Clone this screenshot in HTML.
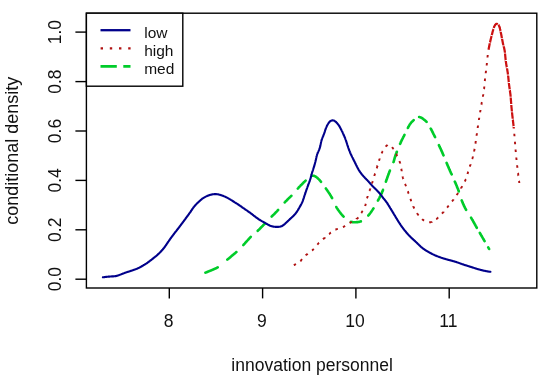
<!DOCTYPE html>
<html><head><meta charset="utf-8"><style>
html,body{margin:0;padding:0;background:#fff;overflow:hidden;width:550px;height:380px;}
svg{display:block;}
.lab{font-family:"Liberation Sans",Arial,sans-serif;font-size:17.5px;fill:#111;}
.leg{font-family:"Liberation Sans",Arial,sans-serif;font-size:15.5px;fill:#111;}
</style></head><body>
<svg width="550" height="380" viewBox="0 0 550 380">
<rect x="0" y="0" width="550" height="380" fill="#fff"/>
<path d="M205.4 272.7L205.6 272.6L205.8 272.5L206.1 272.4L206.3 272.3L206.5 272.3L206.7 272.2L207.0 272.1L207.2 272.0L207.4 271.9L207.7 271.8L207.9 271.7L208.1 271.6L208.4 271.5L208.6 271.4L208.8 271.3L209.1 271.2L209.3 271.1L209.5 271.0L209.8 270.9L210.0 270.8L210.2 270.7L210.5 270.7L210.7 270.6L210.9 270.5L211.1 270.4L211.4 270.3L211.6 270.2L211.8 270.1L212.1 270.0L212.3 269.9L212.5 269.8L212.8 269.7L213.0 269.6L213.2 269.5L213.4 269.4L213.7 269.3L213.9 269.2L214.1 269.1L214.4 269.0L214.6 268.9L214.8 268.8L215.0 268.7L215.3 268.6L215.5 268.5L215.7 268.4L216.0 268.3L216.2 268.2L216.4 268.1L216.6 267.9L216.9 267.8L217.1 267.7L217.3 267.6L217.5 267.5L217.7 267.4 M227.3 259.7L227.4 259.6L227.6 259.4L227.8 259.2L228.0 259.1L228.2 258.9L228.4 258.8L228.6 258.6L228.8 258.4L228.9 258.3L229.1 258.1L229.3 258.0L229.5 257.8L229.7 257.6L229.9 257.5L230.1 257.3L230.3 257.1L230.5 257.0L230.7 256.8L230.9 256.7L231.1 256.5L231.2 256.3L231.4 256.2L231.6 256.0L231.8 255.9L232.0 255.7L232.2 255.5L232.4 255.4L232.6 255.2L232.8 255.1L233.0 254.9L233.2 254.7L233.4 254.6L233.5 254.4L233.7 254.3L233.9 254.1L234.1 253.9L234.3 253.8L234.5 253.6L234.7 253.4L234.9 253.3L235.1 253.1L235.3 253.0L235.4 252.8L235.6 252.6L235.8 252.5L236.0 252.3L236.2 252.1L236.4 252.0 M243.3 245.1L243.5 244.9L243.6 244.7L243.8 244.5L244.0 244.4L244.1 244.2L244.3 244.0L244.5 243.8L244.6 243.6L244.8 243.4L245.0 243.2L245.1 243.0L245.3 242.9L245.5 242.7L245.6 242.5L245.8 242.3L246.0 242.1L246.1 241.9L246.3 241.7L246.5 241.6L246.6 241.4L246.8 241.2L247.0 241.0L247.1 240.8L247.3 240.6L247.5 240.4L247.6 240.3L247.8 240.1L248.0 239.9L248.1 239.7L248.3 239.5L248.5 239.3L248.6 239.1L248.8 239.0L249.0 238.8L249.1 238.6L249.3 238.4L249.5 238.2L249.7 238.0L249.8 237.9L250.0 237.7L250.2 237.5L250.3 237.3L250.5 237.1L250.7 237.0L250.8 236.8 M257.7 230.9L257.8 230.7L258.0 230.5L258.2 230.4L258.4 230.2L258.5 230.0L258.7 229.8L258.9 229.7L259.1 229.5L259.3 229.3L259.4 229.1L259.6 229.0L259.8 228.8L260.0 228.6L260.1 228.4L260.3 228.3L260.5 228.1L260.7 227.9L260.8 227.7L261.0 227.5L261.2 227.4L261.4 227.2L261.5 227.0L261.7 226.8L261.9 226.7L262.1 226.5L262.2 226.3L262.4 226.1L262.6 225.9L262.8 225.8L262.9 225.6L263.1 225.4L263.3 225.2L263.5 225.0L263.6 224.9L263.8 224.7L264.0 224.5L264.2 224.3L264.3 224.1L264.5 224.0L264.7 223.8L264.8 223.6 M271.7 216.5L271.8 216.4L272.0 216.2L272.2 216.1L272.3 215.9L272.5 215.7L272.7 215.5L272.9 215.4L273.1 215.2L273.2 215.0L273.4 214.8L273.6 214.7L273.8 214.5L273.9 214.3L274.1 214.1L274.3 214.0L274.5 213.8L274.7 213.6L274.8 213.4L275.0 213.2L275.2 213.1L275.4 212.9L275.5 212.7L275.7 212.5L275.9 212.4L276.1 212.2L276.2 212.0L276.4 211.8L276.6 211.6L276.8 211.5L276.9 211.3L277.1 211.1L277.3 210.9L277.4 210.7L277.6 210.5L277.8 210.4L277.9 210.2L278.1 210.0 M284.7 202.4L284.9 202.3L285.0 202.1L285.2 201.9L285.4 201.7L285.5 201.5L285.7 201.4L285.9 201.2L286.1 201.0L286.2 200.8L286.4 200.6L286.6 200.5L286.8 200.3L286.9 200.1L287.1 199.9L287.3 199.8L287.5 199.6L287.7 199.4L287.8 199.2L288.0 199.1L288.2 198.9L288.4 198.7L288.6 198.5L288.7 198.4L288.9 198.2L289.1 198.0L289.3 197.8L289.4 197.7L289.6 197.5L289.8 197.3L290.0 197.1L290.2 197.0L290.3 196.8L290.5 196.6L290.7 196.4L290.9 196.3L291.0 196.1L291.2 195.9L291.4 195.8 M297.8 188.6L297.9 188.5L298.1 188.3L298.2 188.1L298.4 187.9L298.6 187.7L298.7 187.5L298.9 187.4L299.1 187.2L299.2 187.0L299.4 186.8L299.6 186.6L299.8 186.4L299.9 186.3L300.1 186.1L300.3 185.9L300.5 185.7L300.6 185.5L300.8 185.4L301.0 185.2L301.1 185.0L301.3 184.8L301.5 184.6L301.7 184.5L301.9 184.3L302.0 184.1L302.2 183.9L302.4 183.8L302.6 183.6L302.7 183.4L302.9 183.2L303.1 183.1L303.3 182.9L303.4 182.7L303.6 182.5L303.8 182.4L304.0 182.2L304.2 182.0L304.3 181.8L304.5 181.7L304.7 181.5L304.9 181.3L305.1 181.1L305.2 181.0L305.4 180.8L305.6 180.7 M312.4 175.7L312.5 175.7L312.8 175.7L313.0 175.7L313.2 175.7L313.5 175.8L313.7 175.8L313.9 175.8L314.2 175.9L314.4 176.0L314.6 176.1L314.8 176.2L315.1 176.3L315.3 176.4L315.5 176.5L315.7 176.6L315.9 176.8L316.1 176.9L316.3 177.0L316.5 177.2L316.7 177.3L316.9 177.5L317.1 177.7L317.3 177.8L317.5 178.0L317.7 178.1L317.8 178.3L318.0 178.5L318.2 178.7L318.4 178.8L318.6 179.0L318.7 179.2L318.9 179.4L319.1 179.6L319.2 179.7L319.4 179.9L319.6 180.1L319.8 180.3L319.9 180.5L320.1 180.7L320.2 180.9L320.4 181.0L320.6 181.2L320.7 181.4L320.9 181.6L321.0 181.8 M325.9 188.5L326.1 188.7L326.2 188.9L326.4 189.1L326.5 189.3L326.6 189.5L326.8 189.7L326.9 189.9L327.1 190.1L327.2 190.3L327.4 190.5L327.5 190.7L327.6 190.9L327.8 191.1L327.9 191.3L328.1 191.5L328.2 191.7L328.4 192.0L328.5 192.2L328.6 192.4L328.8 192.6L328.9 192.8L329.0 193.0L329.2 193.2L329.3 193.4L329.5 193.6L329.6 193.8L329.7 194.0L329.9 194.3L330.0 194.5L330.1 194.7L330.3 194.9L330.4 195.1L330.5 195.3L330.6 195.5L330.8 195.7L330.9 196.0L331.0 196.2L331.1 196.4L331.3 196.6L331.4 196.8L331.5 197.1L331.6 197.3L331.7 197.5L331.9 197.7L332.0 197.9L332.1 198.1 M336.3 207.0L336.4 207.2L336.5 207.4L336.6 207.6L336.8 207.8L336.9 208.0L337.0 208.2L337.2 208.4L337.3 208.7L337.5 208.9L337.6 209.1L337.7 209.3L337.9 209.5L338.0 209.7L338.2 209.9L338.3 210.1L338.5 210.3L338.6 210.5L338.8 210.7L338.9 210.9L339.1 211.1L339.2 211.3L339.4 211.5L339.5 211.7L339.7 211.9L339.8 212.1L340.0 212.3L340.1 212.5L340.3 212.7L340.4 212.9L340.6 213.1L340.7 213.3L340.9 213.5L341.0 213.7L341.2 213.9L341.3 214.1L341.5 214.3L341.7 214.5L341.8 214.7L342.0 214.8L342.1 215.0L342.3 215.2L342.5 215.4L342.6 215.6L342.8 215.8L343.0 216.0L343.1 216.2L343.3 216.3L343.5 216.5L343.6 216.7 M350.9 221.8L351.1 221.9L351.3 221.9L351.6 222.0L351.8 222.0L352.1 222.1L352.3 222.1L352.5 222.1L352.8 222.2L353.0 222.2L353.3 222.2L353.5 222.2L353.8 222.2L354.0 222.2L354.3 222.2L354.5 222.2L354.8 222.2L355.0 222.2L355.3 222.2L355.5 222.2L355.8 222.2L356.0 222.2L356.3 222.2L356.5 222.2L356.8 222.1L357.0 222.1L357.3 222.1L357.5 222.1L357.8 222.1L358.0 222.0L358.3 222.0L358.5 222.0L358.8 221.9L359.0 221.9L359.3 221.8L359.5 221.8L359.7 221.7L360.0 221.7L360.2 221.6L360.5 221.5L360.7 221.4L360.9 221.4 M368.3 215.5L368.4 215.4L368.6 215.2L368.8 215.0L368.9 214.8L369.1 214.6L369.2 214.4L369.4 214.2L369.6 214.0L369.7 213.8L369.9 213.6L370.0 213.4L370.2 213.2L370.3 213.0L370.4 212.8L370.6 212.6L370.7 212.4L370.9 212.2L371.0 212.0L371.2 211.8L371.3 211.6L371.4 211.4L371.6 211.2L371.7 211.0L371.9 210.7L372.0 210.5L372.1 210.3L372.3 210.1L372.4 209.9L372.6 209.7L372.7 209.5L372.8 209.3L373.0 209.1L373.1 208.9L373.2 208.7L373.4 208.4L373.5 208.3 M377.9 200.6L378.0 200.5L378.1 200.2L378.3 200.0L378.4 199.8L378.5 199.6L378.6 199.4L378.7 199.1L378.9 198.9L379.0 198.7L379.1 198.5L379.2 198.3L379.3 198.0L379.4 197.8L379.6 197.6L379.7 197.4L379.8 197.2L379.9 196.9L380.0 196.7L380.1 196.5L380.3 196.3L380.4 196.0L380.5 195.8L380.6 195.6L380.7 195.4L380.8 195.1L380.9 194.9L381.0 194.7L381.1 194.5L381.2 194.2L381.3 194.0L381.4 193.8L381.5 193.6L381.7 193.3L381.8 193.1L381.9 192.9L381.9 192.6L382.0 192.4L382.1 192.2L382.2 191.9L382.3 191.7L382.4 191.5L382.5 191.3L382.6 191.0L382.7 190.8L382.8 190.6L382.9 190.3L383.0 190.1L383.0 189.9 M385.9 181.8L385.9 181.6L386.0 181.4L386.1 181.1L386.2 180.9L386.3 180.6L386.3 180.4L386.4 180.2L386.5 179.9L386.6 179.7L386.7 179.5L386.8 179.2L386.8 179.0L386.9 178.8L387.0 178.5L387.1 178.3L387.2 178.0L387.2 177.8L387.3 177.6L387.4 177.3L387.5 177.1L387.6 176.9L387.7 176.6L387.8 176.4L387.8 176.2L387.9 175.9L388.0 175.7L388.1 175.5L388.2 175.2L388.3 175.0L388.3 174.8L388.4 174.5L388.5 174.3L388.6 174.0L388.7 173.8L388.8 173.6L388.9 173.3L389.0 173.1L389.0 172.9L389.1 172.6L389.2 172.4L389.3 172.2L389.4 171.9L389.5 171.7L389.6 171.5L389.7 171.2L389.8 171.0L389.9 170.8L389.9 170.6 M393.5 162.2L393.6 162.1L393.6 161.8L393.7 161.6L393.8 161.3L393.8 161.1L393.9 160.9L394.0 160.6L394.0 160.4L394.1 160.1L394.2 159.9L394.2 159.6L394.3 159.4L394.4 159.2L394.4 158.9L394.5 158.7L394.6 158.4L394.6 158.2L394.7 158.0L394.8 157.7L394.8 157.5L394.9 157.2L395.0 157.0L395.1 156.8L395.1 156.5L395.2 156.3L395.3 156.1L395.4 155.8L395.5 155.6L395.5 155.3L395.6 155.1L395.7 154.9L395.8 154.6L395.9 154.4L396.0 154.2L396.1 153.9L396.2 153.7L396.2 153.5L396.3 153.2L396.4 153.0L396.5 152.8L396.6 152.5L396.7 152.3L396.8 152.1L396.9 151.8L396.9 151.7 M400.1 143.9L400.2 143.7L400.3 143.5L400.4 143.3L400.5 143.0L400.6 142.8L400.7 142.6L400.8 142.4L400.9 142.1L401.0 141.9L401.1 141.7L401.2 141.4L401.3 141.2L401.4 141.0L401.5 140.8L401.6 140.5L401.7 140.3L401.8 140.1L401.9 139.9L402.0 139.6L402.2 139.4L402.3 139.2L402.4 139.0L402.5 138.7L402.6 138.5L402.7 138.3L402.8 138.1L402.9 137.9L403.1 137.6L403.2 137.4L403.3 137.2L403.4 137.0L403.5 136.7L403.6 136.5L403.7 136.3L403.9 136.1L404.0 135.9L404.1 135.6L404.2 135.4L404.3 135.2L404.4 135.0L404.5 134.8 M407.9 128.0L408.0 127.8L408.1 127.6L408.2 127.3L408.3 127.1L408.4 126.9L408.5 126.7L408.6 126.4L408.8 126.2L408.9 126.0L409.0 125.8L409.1 125.6L409.2 125.4L409.4 125.1L409.5 124.9L409.6 124.7L409.8 124.5L409.9 124.3L410.0 124.1L410.2 123.9L410.3 123.7L410.5 123.5L410.6 123.3L410.8 123.1L410.9 122.9L411.1 122.7L411.2 122.5L411.4 122.3L411.6 122.1L411.7 122.0L411.9 121.8L412.1 121.6L412.3 121.4L412.5 121.3L412.6 121.1L412.8 120.9L413.0 120.8L413.2 120.6L413.4 120.4L413.6 120.2L413.7 120.1 M419.1 117.0L419.2 117.0L419.4 117.0L419.6 117.1L419.9 117.1L420.1 117.2L420.3 117.3L420.5 117.4L420.8 117.5L421.0 117.6L421.2 117.7L421.4 117.8L421.7 117.9L421.9 118.0L422.1 118.2L422.3 118.3L422.5 118.4L422.7 118.6L422.9 118.7L423.1 118.9L423.3 119.0L423.5 119.2L423.7 119.3L423.9 119.5L424.1 119.6L424.3 119.8L424.5 119.9L424.7 120.1L424.9 120.3L425.1 120.4L425.2 120.6L425.4 120.7L425.6 120.9L425.8 121.1L426.0 121.3L426.2 121.4L426.3 121.6L426.5 121.8L426.6 121.9 M430.7 128.6L430.8 128.7L431.0 129.0L431.1 129.2L431.2 129.4L431.3 129.6L431.4 129.9L431.5 130.1L431.6 130.3L431.7 130.5L431.9 130.7L432.0 131.0L432.1 131.2L432.2 131.4L432.3 131.6L432.4 131.9L432.5 132.1L432.6 132.3L432.8 132.5L432.9 132.8L433.0 133.0L433.1 133.2L433.2 133.4L433.3 133.6L433.4 133.9L433.5 134.1L433.7 134.3L433.8 134.5L433.9 134.8L434.0 135.0L434.1 135.2L434.2 135.4L434.3 135.7L434.4 135.9L434.5 136.1L434.6 136.3L434.8 136.6L434.9 136.8L435.0 137.0L435.1 137.2 M438.9 145.2L439.0 145.4L439.1 145.6L439.2 145.8L439.3 146.0L439.4 146.3L439.5 146.5L439.6 146.7L439.7 146.9L439.8 147.2L439.9 147.4L440.0 147.6L440.2 147.8L440.3 148.1L440.4 148.3L440.5 148.5L440.6 148.7L440.7 149.0L440.8 149.2L440.9 149.4L441.0 149.7L441.1 149.9L441.2 150.1L441.3 150.3L441.4 150.6L441.5 150.8L441.6 151.0L441.7 151.3L441.8 151.5L441.9 151.7L442.0 151.9L442.1 152.2L442.2 152.4L442.3 152.6L442.4 152.8L442.5 153.1L442.6 153.3L442.7 153.5L442.8 153.8L442.9 154.0L443.0 154.2L443.1 154.5L443.2 154.7L443.3 154.9L443.4 155.1L443.5 155.3 M446.6 162.8L446.7 163.0L446.7 163.2L446.8 163.5L446.9 163.7L447.0 163.9L447.1 164.2L447.2 164.4L447.3 164.6L447.4 164.9L447.5 165.1L447.6 165.3L447.7 165.5L447.8 165.8L447.9 166.0L448.0 166.2L448.1 166.5L448.2 166.7L448.3 166.9L448.4 167.2L448.5 167.4L448.6 167.6L448.7 167.8L448.8 168.1L448.9 168.3L449.0 168.5L449.1 168.8L449.2 169.0L449.3 169.2L449.4 169.4L449.5 169.7L449.6 169.9L449.7 170.1L449.8 170.4L449.9 170.6L450.0 170.8L450.1 171.0L450.2 171.3L450.3 171.5L450.4 171.7L450.5 172.0L450.6 172.2L450.7 172.4L450.8 172.6L450.9 172.9L451.0 173.1L451.2 173.3L451.3 173.5L451.4 173.8L451.5 174.0L451.6 174.2L451.7 174.4 M454.8 181.6L454.9 181.8L455.0 182.0L455.1 182.2L455.2 182.5L455.3 182.7L455.4 182.9L455.5 183.1L455.6 183.4L455.7 183.6L455.8 183.8L455.9 184.1L456.0 184.3L456.1 184.5L456.2 184.8L456.3 185.0L456.4 185.2L456.5 185.5L456.6 185.7L456.7 185.9L456.8 186.1L456.9 186.4L456.9 186.6L457.0 186.8L457.1 187.1L457.2 187.3L457.3 187.5L457.4 187.8L457.5 188.0L457.6 188.2L457.7 188.5L457.8 188.7L457.9 188.9L458.0 189.2L458.1 189.4L458.2 189.6L458.2 189.9L458.3 190.1L458.4 190.3L458.5 190.6L458.6 190.8L458.7 191.0L458.8 191.3L458.8 191.5 M461.7 200.3L461.8 200.5L461.9 200.8L462.0 201.0L462.0 201.2L462.1 201.5L462.2 201.7L462.3 201.9L462.4 202.2L462.5 202.4L462.6 202.6L462.7 202.9L462.8 203.1L462.9 203.3L463.0 203.6L463.1 203.8L463.2 204.0L463.3 204.2L463.4 204.5L463.5 204.7L463.6 204.9L463.7 205.2L463.8 205.4L463.9 205.6L464.0 205.8L464.1 206.1L464.2 206.3L464.3 206.5L464.5 206.7L464.6 207.0L464.7 207.2L464.8 207.4L464.9 207.6L465.0 207.8L465.1 208.1L465.3 208.3L465.4 208.5L465.5 208.7L465.6 208.9L465.7 209.2L465.8 209.4L466.0 209.6L466.1 209.8 M471.1 217.7L471.2 217.8L471.3 218.0L471.4 218.3L471.6 218.5L471.7 218.7L471.8 218.9L471.9 219.1L472.1 219.3L472.2 219.6L472.3 219.8L472.4 220.0L472.6 220.2L472.7 220.4L472.8 220.6L472.9 220.9L473.1 221.1L473.2 221.3L473.3 221.5L473.4 221.7L473.5 222.0L473.7 222.2L473.8 222.4L473.9 222.6L474.0 222.8L474.1 223.0L474.3 223.3L474.4 223.5L474.5 223.7L474.6 223.9L474.8 224.1L474.9 224.4L475.0 224.6L475.1 224.8L475.2 225.0L475.4 225.2L475.5 225.5L475.6 225.7L475.7 225.9L475.9 226.1L476.0 226.3L476.1 226.5L476.2 226.8L476.3 227.0L476.5 227.2L476.6 227.4L476.7 227.6L476.8 227.8 M479.8 232.8L479.9 233.0L480.0 233.2L480.1 233.5L480.3 233.7L480.4 233.9L480.5 234.1L480.6 234.3L480.8 234.5L480.9 234.7L481.0 235.0L481.1 235.2L481.3 235.4L481.4 235.6L481.5 235.8L481.7 236.0L481.8 236.3L481.9 236.5L482.0 236.7L482.2 236.9L482.3 237.1L482.4 237.3L482.5 237.6L482.7 237.8L482.8 238.0L482.9 238.2L483.0 238.4L483.2 238.6L483.3 238.9L483.4 239.1L483.5 239.3L483.6 239.5L483.8 239.7L483.9 239.9L484.0 240.2L484.1 240.4L484.3 240.6L484.4 240.8L484.5 241.0L484.6 241.2 M488.2 247.3L488.3 247.5L488.4 247.7L488.5 247.9L488.7 248.2L488.8 248.4L488.9 248.6L489.0 248.8L489.1 249.0" fill="none" stroke="#00cc2a" stroke-width="2.6" stroke-linecap="round" stroke-linejoin="round"/>
<path d="M102.9 277.3L103.4 277.2L103.9 277.2L104.4 277.1L104.9 277.0L105.4 277.0L105.9 276.9L106.4 276.9L106.9 276.8L107.4 276.7L107.9 276.7L108.4 276.6L108.9 276.6L109.4 276.6L109.9 276.5L110.4 276.5L110.8 276.5L111.3 276.5L111.8 276.4L112.3 276.4L112.8 276.4L113.3 276.4L113.8 276.3L114.3 276.3L114.8 276.2L115.3 276.1L115.8 276.1L116.3 276.0L116.8 275.8L117.2 275.7L117.7 275.6L118.2 275.4L118.7 275.3L119.1 275.1L119.6 274.9L120.1 274.7L120.5 274.6L121.0 274.4L121.4 274.2L121.9 274.0L122.4 273.8L122.8 273.6L123.3 273.5L123.8 273.3L124.2 273.1L124.7 272.9L125.2 272.8L125.7 272.6L126.1 272.4L126.6 272.3L127.1 272.1L127.5 272.0L128.0 271.8L128.5 271.7L129.0 271.5L129.4 271.4L129.9 271.2L130.4 271.0L130.9 270.9L131.3 270.7L131.8 270.6L132.3 270.4L132.8 270.3L133.2 270.1L133.7 269.9L134.2 269.8L134.7 269.6L135.1 269.4L135.6 269.3L136.1 269.1L136.5 268.9L137.0 268.7L137.4 268.5L137.9 268.3L138.4 268.1L138.8 267.9L139.3 267.7L139.7 267.4L140.1 267.2L140.6 267.0L141.0 266.7L141.4 266.5L141.9 266.2L142.3 266.0L142.7 265.7L143.2 265.5L143.6 265.2L144.0 264.9L144.5 264.7L144.9 264.4L145.3 264.2L145.7 263.9L146.2 263.6L146.6 263.4L147.0 263.1L147.4 262.8L147.8 262.5L148.2 262.2L148.6 261.9L149.0 261.6L149.4 261.3L149.8 261.0L150.2 260.7L150.6 260.4L151.0 260.1L151.4 259.8L151.8 259.5L152.2 259.2L152.6 258.9L153.0 258.6L153.3 258.2L153.7 257.9L154.1 257.6L154.5 257.3L154.9 257.0L155.3 256.7L155.7 256.4L156.1 256.1L156.5 255.7L156.8 255.4L157.2 255.1L157.6 254.7L158.0 254.4L158.3 254.1L158.7 253.7L159.0 253.4L159.4 253.0L159.8 252.7L160.1 252.3L160.5 252.0L160.8 251.6L161.1 251.2L161.5 250.9L161.8 250.5L162.2 250.1L162.5 249.8L162.8 249.4L163.1 249.0L163.5 248.6L163.8 248.2L164.1 247.8L164.4 247.4L164.7 247.0L165.0 246.6L165.2 246.2L165.5 245.8L165.8 245.4L166.1 245.0L166.4 244.6L166.7 244.2L166.9 243.7L167.2 243.3L167.5 242.9L167.8 242.5L168.0 242.1L168.3 241.7L168.6 241.3L168.9 240.8L169.2 240.4L169.5 240.0L169.8 239.6L170.0 239.2L170.3 238.8L170.6 238.4L170.9 238.0L171.2 237.6L171.5 237.2L171.8 236.8L172.1 236.4L172.4 236.0L172.7 235.6L173.0 235.2L173.3 234.8L173.6 234.4L173.9 234.0L174.2 233.6L174.5 233.2L174.8 232.8L175.1 232.4L175.4 232.0L175.7 231.6L176.1 231.2L176.4 230.8L176.7 230.4L177.0 230.0L177.3 229.6L177.6 229.3L177.9 228.9L178.2 228.5L178.5 228.1L178.8 227.7L179.1 227.3L179.4 226.9L179.7 226.5L180.0 226.1L180.3 225.7L180.6 225.3L180.9 224.9L181.2 224.5L181.5 224.1L181.8 223.7L182.1 223.3L182.4 222.9L182.7 222.5L183.0 222.1L183.3 221.7L183.6 221.3L183.9 220.9L184.2 220.5L184.5 220.1L184.8 219.7L185.1 219.3L185.4 218.9L185.7 218.4L186.0 218.0L186.3 217.6L186.6 217.2L186.9 216.8L187.2 216.4L187.5 216.0L187.8 215.6L188.1 215.2L188.4 214.8L188.7 214.4L189.0 214.0L189.2 213.6L189.5 213.2L189.8 212.8L190.1 212.4L190.4 212.0L190.7 211.6L191.0 211.1L191.2 210.7L191.5 210.3L191.8 209.9L192.1 209.5L192.3 209.1L192.6 208.7L192.9 208.3L193.2 207.8L193.5 207.4L193.8 207.0L194.1 206.7L194.4 206.3L194.7 205.9L195.1 205.5L195.4 205.1L195.7 204.8L196.1 204.4L196.4 204.0L196.8 203.7L197.1 203.3L197.5 203.0L197.8 202.6L198.2 202.3L198.6 201.9L198.9 201.6L199.3 201.3L199.7 200.9L200.0 200.6L200.4 200.3L200.8 199.9L201.2 199.6L201.6 199.3L201.9 199.0L202.3 198.7L202.7 198.4L203.2 198.1L203.6 197.9L204.0 197.6L204.4 197.4L204.9 197.1L205.3 196.9L205.7 196.6L206.2 196.4L206.6 196.2L207.1 196.0L207.5 195.8L208.0 195.6L208.5 195.5L208.9 195.3L209.4 195.1L209.9 195.0L210.4 194.8L210.8 194.7L211.3 194.6L211.8 194.5L212.3 194.4L212.8 194.3L213.3 194.2L213.8 194.2L214.3 194.1L214.8 194.1L215.2 194.1L215.7 194.1L216.2 194.1L216.7 194.2L217.2 194.2L217.7 194.3L218.2 194.4L218.7 194.5L219.1 194.6L219.6 194.7L220.1 194.9L220.6 195.0L221.1 195.2L221.5 195.3L222.0 195.5L222.5 195.7L222.9 195.8L223.4 196.0L223.9 196.2L224.3 196.4L224.8 196.6L225.3 196.8L225.7 197.0L226.2 197.2L226.6 197.4L227.1 197.7L227.5 197.9L227.9 198.1L228.4 198.4L228.8 198.6L229.2 198.9L229.7 199.1L230.1 199.4L230.5 199.6L230.9 199.9L231.4 200.2L231.8 200.4L232.2 200.7L232.6 201.0L233.0 201.2L233.5 201.5L233.9 201.8L234.3 202.0L234.7 202.3L235.2 202.6L235.6 202.8L236.0 203.1L236.4 203.4L236.9 203.6L237.3 203.9L237.7 204.2L238.1 204.5L238.5 204.7L238.9 205.0L239.4 205.3L239.8 205.6L240.2 205.9L240.6 206.1L241.0 206.4L241.4 206.7L241.8 207.0L242.2 207.3L242.6 207.6L243.0 207.9L243.5 208.2L243.9 208.4L244.3 208.7L244.7 209.0L245.1 209.3L245.5 209.6L245.9 209.9L246.3 210.1L246.7 210.4L247.2 210.7L247.6 211.0L248.0 211.3L248.4 211.6L248.8 211.9L249.2 212.2L249.6 212.4L250.0 212.7L250.4 213.0L250.8 213.3L251.2 213.6L251.6 213.9L252.0 214.2L252.4 214.5L252.8 214.9L253.2 215.2L253.6 215.5L254.0 215.8L254.4 216.1L254.8 216.4L255.2 216.7L255.6 217.0L256.0 217.3L256.4 217.6L256.8 217.9L257.2 218.2L257.6 218.5L258.0 218.7L258.4 219.0L258.8 219.3L259.2 219.6L259.7 219.8L260.1 220.1L260.5 220.4L261.0 220.6L261.4 220.9L261.8 221.1L262.3 221.4L262.7 221.6L263.1 221.8L263.6 222.1L264.0 222.3L264.4 222.6L264.9 222.8L265.3 223.1L265.7 223.3L266.2 223.6L266.6 223.8L267.0 224.1L267.5 224.3L267.9 224.6L268.3 224.8L268.8 225.0L269.2 225.3L269.7 225.5L270.1 225.7L270.6 225.9L271.0 226.0L271.5 226.2L272.0 226.3L272.4 226.4L272.9 226.5L273.4 226.6L273.9 226.7L274.4 226.8L274.9 226.8L275.4 226.9L275.9 226.9L276.4 226.9L276.9 226.9L277.4 226.9L277.9 226.9L278.3 226.9L278.8 226.8L279.3 226.8L279.8 226.7L280.3 226.6L280.7 226.5L281.2 226.3L281.6 226.2L282.0 226.0L282.5 225.7L282.9 225.5L283.3 225.2L283.6 224.9L284.0 224.6L284.4 224.3L284.8 224.0L285.1 223.7L285.5 223.3L285.8 223.0L286.2 222.6L286.6 222.3L286.9 222.0L287.3 221.6L287.7 221.3L288.0 220.9L288.4 220.6L288.8 220.2L289.1 219.9L289.5 219.6L289.8 219.2L290.2 218.9L290.6 218.5L290.9 218.2L291.3 217.8L291.7 217.5L292.0 217.2L292.4 216.8L292.8 216.5L293.1 216.1L293.5 215.8L293.8 215.4L294.2 215.1L294.5 214.7L294.9 214.3L295.2 214.0L295.5 213.6L295.8 213.2L296.1 212.8L296.4 212.4L296.7 212.0L297.0 211.6L297.2 211.2L297.5 210.7L297.8 210.3L298.0 209.9L298.3 209.5L298.5 209.0L298.8 208.6L299.0 208.2L299.3 207.7L299.5 207.3L299.8 206.9L300.0 206.4L300.3 206.0L300.5 205.6L300.8 205.1L301.0 204.7L301.2 204.3L301.5 203.8L301.7 203.4L301.9 202.9L302.1 202.5L302.3 202.0L302.5 201.6L302.7 201.1L302.9 200.6L303.0 200.2L303.2 199.7L303.4 199.2L303.5 198.7L303.7 198.3L303.8 197.8L304.0 197.3L304.1 196.8L304.3 196.4L304.4 195.9L304.6 195.4L304.7 194.9L304.9 194.5L305.1 194.0L305.2 193.5L305.4 193.0L305.5 192.6L305.7 192.1L305.9 191.6L306.0 191.1L306.2 190.7L306.3 190.2L306.5 189.7L306.7 189.3L306.8 188.8L307.0 188.3L307.2 187.8L307.3 187.4L307.5 186.9L307.7 186.4L307.9 186.0L308.0 185.5L308.2 185.0L308.4 184.5L308.5 184.1L308.7 183.6L308.9 183.1L309.1 182.7L309.3 182.2L309.4 181.7L309.6 181.3L309.8 180.8L309.9 180.3L310.1 179.9L310.2 179.4L310.4 178.9L310.5 178.4L310.7 178.0L310.8 177.5L310.9 177.0L311.0 176.5L311.2 176.0L311.3 175.5L311.4 175.1L311.5 174.6L311.7 174.1L311.8 173.6L311.9 173.1L312.1 172.7L312.2 172.2L312.4 171.7L312.6 171.2L312.7 170.8L312.9 170.3L313.0 169.8L313.2 169.3L313.3 168.9L313.5 168.4L313.6 167.9L313.8 167.4L313.9 167.0L314.1 166.5L314.2 166.0L314.4 165.5L314.5 165.0L314.6 164.6L314.8 164.1L314.9 163.6L315.0 163.1L315.2 162.6L315.3 162.1L315.4 161.7L315.5 161.2L315.6 160.7L315.8 160.2L315.9 159.7L316.0 159.2L316.1 158.7L316.2 158.2L316.3 157.8L316.4 157.3L316.5 156.8L316.6 156.3L316.8 155.8L316.9 155.3L317.0 154.9L317.2 154.4L317.3 153.9L317.5 153.5L317.7 153.0L317.9 152.5L318.1 152.1L318.3 151.6L318.5 151.2L318.7 150.7L318.9 150.3L319.1 149.8L319.3 149.3L319.4 148.9L319.6 148.4L319.8 148.0L319.9 147.5L320.0 147.0L320.2 146.5L320.3 146.0L320.4 145.6L320.5 145.1L320.6 144.6L320.7 144.1L320.8 143.6L320.9 143.1L321.0 142.6L321.1 142.1L321.2 141.7L321.3 141.2L321.5 140.7L321.6 140.2L321.7 139.7L321.9 139.3L322.1 138.8L322.2 138.3L322.4 137.9L322.6 137.4L322.8 136.9L323.0 136.5L323.2 136.0L323.4 135.6L323.5 135.1L323.7 134.6L323.9 134.2L324.1 133.7L324.2 133.2L324.4 132.8L324.6 132.3L324.7 131.8L324.9 131.3L325.0 130.9L325.2 130.4L325.3 129.9L325.5 129.4L325.7 129.0L325.8 128.5L326.0 128.0L326.2 127.6L326.4 127.1L326.6 126.7L326.8 126.2L327.0 125.8L327.2 125.3L327.5 124.9L327.7 124.5L328.0 124.0L328.2 123.6L328.5 123.2L328.8 122.8L329.1 122.4L329.4 122.1L329.7 121.7L330.1 121.4L330.4 121.1L330.8 120.9L331.2 120.7L331.6 120.5L332.0 120.4L332.4 120.3L332.8 120.3L333.2 120.4L333.6 120.5L334.0 120.6L334.4 120.8L334.7 121.0L335.1 121.3L335.5 121.6L335.8 121.9L336.2 122.2L336.5 122.6L336.9 122.9L337.2 123.3L337.5 123.7L337.8 124.0L338.1 124.4L338.4 124.8L338.7 125.2L339.0 125.6L339.3 126.1L339.5 126.5L339.8 126.9L340.0 127.3L340.2 127.8L340.5 128.2L340.7 128.7L340.9 129.1L341.2 129.6L341.4 130.0L341.6 130.4L341.8 130.9L342.0 131.3L342.3 131.8L342.5 132.2L342.7 132.7L342.9 133.1L343.1 133.6L343.3 134.0L343.5 134.5L343.7 135.0L344.0 135.4L344.1 135.9L344.3 136.3L344.5 136.8L344.7 137.3L344.9 137.7L345.1 138.2L345.3 138.7L345.4 139.1L345.6 139.6L345.8 140.1L346.0 140.5L346.1 141.0L346.3 141.5L346.4 142.0L346.6 142.4L346.7 142.9L346.9 143.4L347.0 143.9L347.2 144.3L347.3 144.8L347.5 145.3L347.6 145.8L347.8 146.2L348.0 146.7L348.1 147.2L348.3 147.7L348.4 148.1L348.6 148.6L348.8 149.1L348.9 149.5L349.1 150.0L349.3 150.5L349.5 150.9L349.7 151.4L349.9 151.9L350.0 152.3L350.2 152.8L350.4 153.3L350.6 153.7L350.8 154.2L351.0 154.6L351.3 155.1L351.5 155.5L351.7 156.0L351.9 156.4L352.1 156.9L352.3 157.3L352.6 157.8L352.8 158.2L353.0 158.7L353.2 159.1L353.5 159.6L353.7 160.0L353.9 160.5L354.1 160.9L354.4 161.4L354.6 161.8L354.8 162.2L355.0 162.7L355.2 163.1L355.5 163.6L355.7 164.0L355.9 164.5L356.1 164.9L356.3 165.4L356.6 165.8L356.8 166.3L357.0 166.7L357.3 167.2L357.5 167.6L357.7 168.1L358.0 168.5L358.2 168.9L358.4 169.4L358.7 169.8L358.9 170.2L359.2 170.7L359.5 171.1L359.7 171.5L360.0 171.9L360.3 172.3L360.6 172.7L360.9 173.1L361.2 173.5L361.5 173.9L361.8 174.3L362.1 174.7L362.5 175.1L362.8 175.5L363.1 175.8L363.4 176.2L363.8 176.6L364.1 176.9L364.5 177.3L364.8 177.7L365.1 178.0L365.5 178.4L365.8 178.7L366.2 179.1L366.5 179.5L366.9 179.8L367.2 180.2L367.6 180.5L367.9 180.9L368.3 181.3L368.6 181.6L368.9 182.0L369.3 182.4L369.6 182.8L369.9 183.1L370.2 183.5L370.6 183.9L370.9 184.3L371.2 184.6L371.6 185.0L371.9 185.4L372.2 185.7L372.6 186.1L372.9 186.5L373.3 186.8L373.6 187.2L374.0 187.5L374.3 187.9L374.7 188.2L375.1 188.6L375.4 188.9L375.8 189.3L376.1 189.6L376.5 190.0L376.8 190.3L377.2 190.7L377.5 191.1L377.9 191.4L378.2 191.8L378.6 192.1L378.9 192.5L379.2 192.9L379.6 193.3L379.9 193.6L380.2 194.0L380.5 194.4L380.8 194.8L381.1 195.2L381.4 195.6L381.7 196.0L382.0 196.4L382.3 196.8L382.6 197.2L382.9 197.6L383.2 198.0L383.5 198.4L383.9 198.8L384.2 199.2L384.5 199.5L384.8 199.9L385.1 200.3L385.4 200.7L385.7 201.1L386.0 201.5L386.3 201.9L386.6 202.3L386.9 202.7L387.2 203.1L387.5 203.5L387.7 204.0L388.0 204.4L388.3 204.8L388.5 205.2L388.8 205.7L389.0 206.1L389.3 206.5L389.6 206.9L389.8 207.4L390.1 207.8L390.3 208.2L390.6 208.7L390.9 209.1L391.1 209.5L391.4 209.9L391.6 210.4L391.9 210.8L392.2 211.2L392.4 211.7L392.7 212.1L392.9 212.5L393.2 212.9L393.5 213.4L393.7 213.8L394.0 214.2L394.2 214.6L394.5 215.1L394.8 215.5L395.0 215.9L395.3 216.3L395.5 216.8L395.8 217.2L396.0 217.6L396.3 218.1L396.6 218.5L396.8 218.9L397.1 219.3L397.3 219.8L397.6 220.2L397.9 220.6L398.1 221.1L398.4 221.5L398.6 221.9L398.9 222.3L399.2 222.7L399.5 223.2L399.7 223.6L400.0 224.0L400.3 224.4L400.6 224.8L400.8 225.2L401.1 225.7L401.4 226.1L401.7 226.5L402.0 226.9L402.3 227.3L402.6 227.7L402.9 228.1L403.2 228.5L403.5 228.9L403.8 229.3L404.1 229.7L404.4 230.1L404.7 230.5L405.0 230.8L405.4 231.2L405.7 231.6L406.0 232.0L406.3 232.4L406.6 232.8L407.0 233.1L407.3 233.5L407.6 233.9L408.0 234.3L408.3 234.6L408.6 235.0L409.0 235.4L409.3 235.7L409.7 236.1L410.0 236.4L410.4 236.8L410.7 237.2L411.1 237.5L411.4 237.9L411.8 238.2L412.2 238.6L412.5 238.9L412.9 239.2L413.3 239.6L413.6 239.9L414.0 240.2L414.4 240.6L414.7 240.9L415.1 241.2L415.5 241.6L415.9 241.9L416.2 242.2L416.6 242.6L417.0 242.9L417.3 243.3L417.7 243.6L418.0 244.0L418.4 244.3L418.7 244.7L419.1 245.0L419.4 245.4L419.8 245.7L420.2 246.1L420.5 246.4L420.9 246.8L421.2 247.1L421.6 247.4L422.0 247.7L422.4 248.0L422.8 248.3L423.2 248.6L423.6 248.9L424.0 249.2L424.4 249.5L424.8 249.8L425.3 250.0L425.7 250.3L426.1 250.6L426.5 250.8L427.0 251.1L427.4 251.3L427.8 251.6L428.3 251.8L428.7 252.1L429.1 252.3L429.6 252.6L430.0 252.8L430.4 253.1L430.9 253.3L431.3 253.5L431.8 253.8L432.2 254.0L432.7 254.2L433.1 254.4L433.6 254.6L434.0 254.8L434.5 255.1L434.9 255.3L435.4 255.5L435.8 255.7L436.3 255.8L436.8 256.0L437.2 256.2L437.7 256.4L438.2 256.6L438.6 256.8L439.1 256.9L439.6 257.1L440.0 257.3L440.5 257.4L441.0 257.6L441.5 257.8L441.9 257.9L442.4 258.1L442.9 258.2L443.4 258.4L443.8 258.5L444.3 258.7L444.8 258.8L445.3 259.0L445.7 259.1L446.2 259.2L446.7 259.4L447.2 259.5L447.7 259.7L448.2 259.8L448.6 259.9L449.1 260.0L449.6 260.2L450.1 260.3L450.6 260.4L451.1 260.5L451.5 260.7L452.0 260.8L452.5 260.9L453.0 261.1L453.5 261.2L453.9 261.3L454.4 261.5L454.9 261.6L455.4 261.8L455.9 261.9L456.3 262.1L456.8 262.2L457.3 262.4L457.8 262.6L458.2 262.7L458.7 262.9L459.2 263.1L459.6 263.2L460.1 263.4L460.6 263.6L461.1 263.7L461.5 263.9L462.0 264.1L462.5 264.2L462.9 264.4L463.4 264.5L463.9 264.7L464.4 264.9L464.8 265.0L465.3 265.2L465.8 265.3L466.3 265.5L466.7 265.6L467.2 265.8L467.7 265.9L468.2 266.1L468.6 266.2L469.1 266.4L469.6 266.5L470.1 266.7L470.6 266.8L471.0 267.0L471.5 267.1L472.0 267.3L472.5 267.4L472.9 267.6L473.4 267.7L473.9 267.9L474.4 268.1L474.8 268.2L475.3 268.4L475.8 268.5L476.3 268.6L476.8 268.8L477.2 268.9L477.7 269.1L478.2 269.2L478.7 269.4L479.2 269.5L479.6 269.6L480.1 269.8L480.6 269.9L481.1 270.0L481.6 270.1L482.1 270.2L482.5 270.4L483.0 270.5L483.5 270.6L484.0 270.7L484.5 270.8L485.0 270.9L485.5 271.0L486.0 271.1L486.4 271.2L486.9 271.3L487.4 271.4L487.9 271.5L488.4 271.5L488.9 271.6L489.4 271.7L489.9 271.7L490.4 271.8" fill="none" stroke="#00008b" stroke-width="2.1" stroke-linejoin="round" stroke-linecap="round"/>
<path d="M293.8 265.2L294.0 265.1L294.2 265.0L294.5 264.9L294.7 264.7L294.9 264.6L295.1 264.5L295.4 264.4L295.6 264.3L295.8 264.2L296.0 264.1 M300.5 261.1L300.6 261.1L300.7 260.9L300.9 260.7L301.0 260.5L301.1 260.3L301.3 260.1L301.4 259.9L301.5 259.6L301.7 259.4L301.8 259.2L301.9 259.0 M305.7 255.3L305.8 255.2L306.0 255.0L306.2 254.9L306.4 254.8L306.6 254.6L306.8 254.5L307.0 254.3L307.2 254.2L307.4 254.0L307.6 253.9L307.7 253.8 M312.0 250.5L312.2 250.4L312.4 250.2L312.6 250.1L312.7 249.9L312.9 249.7L313.1 249.6L313.3 249.4L313.5 249.2L313.6 249.0L313.8 248.8 M317.3 244.7L317.4 244.6L317.5 244.5L317.7 244.3L317.8 244.1L318.0 243.9L318.2 243.7L318.3 243.5L318.5 243.3L318.7 243.1L318.8 242.9L319.0 242.8 M323.0 239.2L323.1 239.1L323.3 239.0L323.5 238.8L323.7 238.7L323.9 238.5L324.1 238.3L324.3 238.2L324.5 238.0L324.7 237.9L324.9 237.7L324.9 237.6 M329.0 234.1L329.2 234.0L329.4 233.8L329.6 233.6L329.8 233.5L330.0 233.3L330.2 233.1L330.4 233.0L330.5 232.8L330.7 232.6L330.9 232.5 M335.4 229.6L335.5 229.6L335.7 229.5L336.0 229.4L336.2 229.4L336.4 229.3L336.7 229.3L336.9 229.2L337.2 229.1L337.4 229.1L337.7 229.0L337.8 229.0 M342.9 227.2L343.1 227.1L343.3 227.0L343.5 226.9L343.7 226.7L343.9 226.6L344.1 226.5L344.3 226.3L344.5 226.2L344.7 226.0L344.9 225.9L345.0 225.8 M349.6 223.0L349.8 222.9L350.0 222.8L350.2 222.7L350.4 222.5L350.7 222.4L350.9 222.3L351.1 222.2L351.3 222.1L351.5 222.0L351.8 221.8 M356.5 219.1L356.5 219.0L356.7 218.9L356.9 218.8L357.1 218.6L357.3 218.5L357.5 218.3L357.7 218.1L357.9 218.0L358.1 217.8L358.2 217.6L358.4 217.5 M361.3 213.0L361.4 212.9L361.5 212.7L361.6 212.4L361.8 212.2L361.9 212.0L362.0 211.8L362.2 211.6L362.3 211.4L362.4 211.2L362.6 211.0L362.7 210.9 M365.2 206.1L365.2 205.9L365.3 205.7L365.4 205.4L365.4 205.2L365.5 205.0L365.6 204.7L365.6 204.5L365.7 204.2L365.7 204.0L365.8 203.7 M367.0 198.4L367.1 198.2L367.2 197.9L367.2 197.7L367.3 197.4L367.4 197.2L367.5 197.0L367.5 196.7L367.6 196.5L367.7 196.2L367.7 196.0 M369.4 190.9L369.5 190.8L369.6 190.5L369.7 190.3L369.8 190.1L369.8 189.8L369.9 189.6L370.0 189.4L370.1 189.1L370.2 188.9L370.3 188.7L370.3 188.6 M372.0 183.5L372.1 183.2L372.1 183.0L372.2 182.7L372.3 182.5L372.4 182.3L372.4 182.0L372.5 181.8L372.6 181.5L372.6 181.3L372.7 181.1 M374.3 175.9L374.3 175.8L374.4 175.6L374.5 175.3L374.5 175.1L374.6 174.8L374.7 174.6L374.8 174.4L374.9 174.1L374.9 173.9L375.0 173.7L375.1 173.5 M376.7 168.4L376.8 168.2L376.9 167.9L376.9 167.7L377.0 167.5L377.1 167.2L377.1 167.0L377.2 166.7L377.3 166.5L377.4 166.3L377.4 166.0L377.5 166.0 M379.0 160.8L379.1 160.5L379.2 160.3L379.2 160.0L379.3 159.8L379.4 159.6L379.4 159.3L379.5 159.1L379.6 158.8L379.7 158.6L379.7 158.4 M381.6 153.4L381.7 153.2L381.8 153.0L381.9 152.8L382.0 152.5L382.1 152.3L382.2 152.1L382.3 151.9L382.4 151.6L382.5 151.4L382.6 151.2L382.7 151.1 M385.6 146.6L385.8 146.4L386.0 146.2L386.2 146.1L386.3 145.9L386.5 145.7L386.7 145.6L386.9 145.4L387.1 145.3L387.3 145.2L387.5 145.1L387.6 145.0 M392.1 147.1L392.2 147.3L392.4 147.5L392.5 147.7L392.7 147.9L392.8 148.1L393.0 148.3L393.1 148.5L393.3 148.7L393.4 148.9L393.6 149.1 M396.2 153.8L396.3 153.9L396.4 154.1L396.5 154.4L396.6 154.6L396.7 154.8L396.8 155.0L396.8 155.3L396.9 155.5L397.0 155.7L397.1 156.0L397.2 156.1 M399.3 161.1L399.4 161.3L399.5 161.5L399.6 161.7L399.7 162.0L399.8 162.2L399.9 162.4L400.0 162.6L400.0 162.9L400.1 163.1L400.2 163.3L400.2 163.4 M401.3 168.7L401.4 169.0L401.4 169.2L401.4 169.5L401.5 169.7L401.5 170.0L401.6 170.2L401.6 170.4L401.6 170.7L401.7 170.9L401.7 171.2 M402.6 176.5L402.6 176.6L402.7 176.9L402.7 177.1L402.8 177.3L402.9 177.6L402.9 177.8L403.0 178.1L403.1 178.3L403.2 178.5L403.2 178.8L403.3 178.9 M405.1 183.9L405.2 184.2L405.3 184.4L405.4 184.6L405.5 184.9L405.6 185.1L405.7 185.3L405.8 185.6L405.8 185.8L405.9 186.0L406.0 186.3 M407.8 191.4L407.9 191.5L407.9 191.7L408.0 191.9L408.1 192.2L408.2 192.4L408.3 192.6L408.4 192.9L408.4 193.1L408.5 193.3L408.6 193.6L408.7 193.7 M410.4 198.8L410.5 199.0L410.6 199.3L410.6 199.5L410.7 199.7L410.8 200.0L410.9 200.2L411.0 200.4L411.0 200.7L411.1 200.9L411.2 201.2 M413.2 206.2L413.2 206.3L413.3 206.5L413.4 206.7L413.5 207.0L413.6 207.2L413.7 207.4L413.8 207.6L414.0 207.9L414.1 208.1L414.2 208.3L414.3 208.5 M417.0 213.1L417.1 213.3L417.2 213.5L417.4 213.7L417.5 213.9L417.7 214.1L417.8 214.3L418.0 214.5L418.1 214.7L418.3 214.9L418.4 215.1L418.5 215.1 M422.1 219.1L422.3 219.3L422.5 219.5L422.7 219.6L422.9 219.8L423.1 219.9L423.3 220.1L423.5 220.2L423.7 220.3L423.9 220.5L424.1 220.6 M429.2 222.3L429.3 222.3L429.5 222.3L429.8 222.3L430.0 222.3L430.3 222.2L430.5 222.2L430.7 222.2L431.0 222.1L431.2 222.0L431.4 221.9L431.7 221.9L431.7 221.8 M436.3 219.1L436.4 219.1L436.6 218.9L436.8 218.8L437.0 218.6L437.2 218.5L437.4 218.3L437.5 218.1L437.7 218.0L437.9 217.8L438.1 217.6L438.3 217.5 M442.0 213.6L442.1 213.5L442.3 213.3L442.4 213.1L442.6 212.9L442.8 212.8L442.9 212.6L443.1 212.4L443.3 212.2L443.4 212.0L443.6 211.8L443.6 211.7 M447.1 207.6L447.3 207.4L447.4 207.2L447.6 207.0L447.8 206.8L447.9 206.6L448.1 206.4L448.2 206.2L448.4 206.1L448.5 205.9L448.7 205.7 M452.0 201.4L452.1 201.3L452.3 201.1L452.4 200.9L452.6 200.7L452.7 200.5L452.9 200.4L453.0 200.2L453.2 200.0L453.3 199.8L453.5 199.6L453.6 199.4 M456.7 195.1L456.8 194.9L457.0 194.7L457.1 194.5L457.3 194.3L457.4 194.1L457.5 193.9L457.7 193.6L457.8 193.4L458.0 193.2L458.1 193.0 M461.0 188.4L461.0 188.3L461.1 188.1L461.2 187.9L461.4 187.7L461.5 187.5L461.6 187.3L461.7 187.0L461.9 186.8L462.0 186.6L462.1 186.4L462.2 186.2 M464.8 181.5L464.9 181.3L465.0 181.1L465.1 180.9L465.2 180.7L465.3 180.4L465.4 180.2L465.5 180.0L465.6 179.8L465.7 179.5L465.8 179.3L465.9 179.2 M467.6 174.1L467.6 173.9L467.7 173.6L467.7 173.4L467.8 173.1L467.8 172.9L467.9 172.6L468.0 172.4L468.0 172.2L468.1 171.9L468.2 171.7 M469.8 166.6L469.9 166.4L469.9 166.2L470.0 166.0L470.1 165.7L470.2 165.5L470.3 165.3L470.3 165.0L470.4 164.8L470.5 164.6L470.6 164.3L470.6 164.2 M472.2 159.0L472.3 158.8L472.4 158.6L472.4 158.3L472.5 158.1L472.6 157.9L472.6 157.6L472.7 157.4L472.8 157.1L472.8 156.9L472.9 156.7L472.9 156.6 M474.1 151.4L474.1 151.3L474.2 151.1L474.2 150.8L474.3 150.6L474.3 150.3L474.4 150.1L474.4 149.8L474.5 149.6L474.5 149.3L474.5 149.1L474.6 148.9 M475.4 143.6L475.5 143.4L475.5 143.2L475.5 142.9L475.6 142.7L475.6 142.4L475.6 142.2L475.7 141.9L475.7 141.7L475.7 141.4L475.8 141.2L475.8 141.1 M476.6 135.8L476.6 135.7L476.6 135.5L476.6 135.2L476.7 135.0L476.7 134.7L476.7 134.5L476.8 134.3L476.8 134.0L476.9 133.8L476.9 133.5L476.9 133.3 M477.7 127.9L477.7 127.8L477.7 127.6L477.8 127.3L477.8 127.1L477.8 126.8L477.9 126.6L477.9 126.3L478.0 126.1L478.0 125.8L478.0 125.6L478.0 125.5 M478.9 120.1L478.9 119.9L478.9 119.7L479.0 119.4L479.0 119.2L479.0 118.9L479.1 118.7L479.1 118.4L479.2 118.2L479.2 117.9L479.2 117.7 M480.1 112.3L480.1 112.2L480.2 112.0L480.2 111.8L480.2 111.5L480.3 111.3L480.3 111.0L480.4 110.8L480.4 110.5L480.5 110.3L480.5 110.0L480.5 109.9 M481.4 104.5L481.5 104.4L481.5 104.1L481.5 103.9L481.6 103.6L481.6 103.4L481.7 103.1L481.7 102.9L481.8 102.6L481.8 102.4L481.9 102.1 M482.9 96.8L482.9 96.7L482.9 96.5L483.0 96.2L483.0 96.0L483.0 95.7L483.1 95.5L483.1 95.3L483.2 95.0L483.2 94.8L483.3 94.5L483.3 94.3 M484.0 89.0L484.1 88.8L484.1 88.6L484.1 88.3L484.2 88.1L484.2 87.8L484.2 87.6L484.2 87.3L484.3 87.1L484.3 86.8L484.3 86.6L484.3 86.5 M484.8 81.1L484.8 80.9L484.9 80.6L484.9 80.4L484.9 80.1L484.9 79.9L484.9 79.6L485.0 79.4L485.0 79.1L485.0 78.9L485.0 78.6 M485.7 73.2L485.7 72.9L485.8 72.7L485.8 72.4L485.8 72.2L485.9 71.9L485.9 71.7L485.9 71.4L486.0 71.2L486.0 70.9L486.0 70.8 M486.7 65.4L486.7 65.2L486.7 65.0L486.7 64.7L486.8 64.5L486.8 64.2L486.8 64.0L486.8 63.7L486.9 63.5L486.9 63.2L486.9 63.0L486.9 62.9 M487.5 57.5L487.5 57.3L487.5 57.0L487.6 56.8L487.6 56.5L487.6 56.3L487.6 56.0L487.7 55.8L487.7 55.5L487.7 55.3L487.7 55.1 M488.5 49.7L488.5 49.6 M514.3 133.8L514.3 133.9L514.3 134.1L514.3 134.4L514.4 134.6L514.4 134.9L514.4 135.1L514.4 135.4L514.4 135.6L514.5 135.9L514.5 136.1L514.5 136.3 M514.9 141.7L514.9 141.9L515.0 142.1L515.0 142.4L515.0 142.6L515.0 142.9L515.0 143.1L515.1 143.4L515.1 143.6L515.1 143.9L515.1 144.1L515.1 144.2 M515.6 149.5L515.6 149.6L515.6 149.9L515.6 150.1L515.6 150.3L515.6 150.6L515.7 150.8L515.7 151.1L515.7 151.3L515.7 151.6L515.8 151.8L515.8 152.0 M516.3 157.4L516.3 157.6L516.3 157.8L516.3 158.1L516.4 158.3L516.4 158.6L516.4 158.8L516.4 159.1L516.5 159.3L516.5 159.6L516.5 159.8L516.5 159.9 M517.1 165.3L517.1 165.5L517.2 165.8L517.2 166.0L517.2 166.3L517.3 166.5L517.3 166.8L517.3 167.0L517.3 167.3L517.4 167.5L517.4 167.8 M518.0 173.1L518.1 173.2L518.1 173.5L518.1 173.7L518.2 174.0L518.2 174.2L518.2 174.5L518.2 174.7L518.3 175.0L518.3 175.2L518.3 175.5L518.4 175.6 M519.0 180.9L519.1 181.2L519.1 181.4L519.1 181.7L519.2 181.9L519.2 182.2L519.2 182.4L519.3 182.7L519.3 182.9" fill="none" stroke="#b01212" stroke-width="1.9" stroke-linecap="butt"/>
<path d="M488.5 49.6L488.6 49.3L488.6 49.1L488.7 48.8L488.7 48.6L488.8 48.3L488.8 48.1L488.9 47.9L488.9 47.6L489.0 47.4L489.0 47.1L489.1 46.9L489.1 46.6L489.2 46.4L489.2 46.1L489.3 45.9L489.3 45.6L489.4 45.4L489.4 45.2L489.5 44.9L489.5 44.7L489.6 44.4L489.6 44.2L489.7 43.9L489.7 43.7L489.8 43.4L489.8 43.2 M490.0 42.3L490.1 42.2L490.1 42.0L490.2 41.7L490.2 41.5L490.3 41.3L490.3 41.0L490.4 40.8L490.5 40.5L490.5 40.3L490.6 40.0L490.6 39.8L490.7 39.5L490.7 39.3L490.8 39.1L490.9 38.8L490.9 38.6L491.0 38.3L491.0 38.1L491.1 37.8L491.2 37.6L491.2 37.4L491.3 37.1L491.3 36.9L491.4 36.6L491.5 36.4L491.5 36.2L491.6 36.0 M491.8 35.1L491.8 34.9L491.9 34.7L492.0 34.5L492.0 34.2L492.1 34.0L492.1 33.7L492.2 33.5L492.3 33.2L492.3 33.0L492.4 32.8L492.4 32.5L492.5 32.3L492.6 32.0L492.6 31.8L492.7 31.5L492.8 31.3L492.8 31.1L492.9 30.8L493.0 30.6L493.0 30.3L493.1 30.1L493.2 29.9L493.2 29.6L493.3 29.4L493.4 29.1L493.5 28.9 M493.8 28.0L493.9 27.7L494.0 27.5L494.0 27.3L494.1 27.0L494.2 26.8L494.3 26.6L494.4 26.3L494.5 26.1L494.6 25.9L494.7 25.7L494.9 25.4L495.0 25.2L495.1 25.0L495.2 24.8L495.4 24.6L495.5 24.5L495.7 24.3L495.9 24.2L496.0 24.0L496.2 23.9L496.4 23.9L496.6 23.8L496.8 23.8L497.0 23.8L497.2 23.9L497.4 24.0L497.6 24.1L497.8 24.2 M498.4 24.8L498.6 25.0L498.7 25.2L498.8 25.4L498.9 25.7L499.0 25.9L499.1 26.1L499.2 26.3L499.3 26.6L499.4 26.8L499.5 27.0L499.6 27.3L499.6 27.5L499.7 27.7L499.8 28.0L499.9 28.2L499.9 28.5L500.0 28.7L500.0 28.9L500.1 29.2L500.2 29.4L500.2 29.7L500.3 29.9L500.3 30.2L500.4 30.4L500.4 30.7L500.5 30.9 M500.7 31.8L500.7 31.9L500.7 32.1L500.8 32.4L500.8 32.6L500.9 32.9L500.9 33.1L501.0 33.3L501.0 33.6L501.1 33.8L501.1 34.1L501.2 34.3L501.2 34.6L501.3 34.8L501.3 35.1L501.4 35.3L501.4 35.6L501.5 35.8L501.5 36.1L501.6 36.3L501.6 36.5L501.6 36.8L501.7 37.0L501.7 37.3L501.8 37.5L501.8 37.8L501.9 38.0L501.9 38.2 M502.1 39.1L502.1 39.2L502.2 39.5L502.2 39.7L502.3 40.0L502.3 40.2L502.4 40.5L502.4 40.7L502.5 41.0L502.5 41.2L502.6 41.5L502.6 41.7L502.7 41.9L502.7 42.2L502.8 42.4L502.8 42.7L502.9 42.9L502.9 43.2L503.0 43.4L503.0 43.7L503.1 43.9L503.1 44.1L503.2 44.4L503.2 44.6L503.3 44.9L503.4 45.1L503.4 45.4 M503.7 46.3L503.7 46.6L503.8 46.8L503.9 47.0L503.9 47.3L504.0 47.5L504.1 47.8L504.1 48.0L504.2 48.3L504.2 48.5L504.3 48.7L504.3 49.0L504.4 49.2L504.4 49.5L504.5 49.7L504.5 50.0L504.6 50.2L504.6 50.5L504.7 50.7L504.7 51.0L504.7 51.2L504.8 51.5L504.8 51.7L504.8 51.9L504.9 52.2L504.9 52.4L504.9 52.7 M505.0 53.6L505.0 53.7L505.1 53.9L505.1 54.2L505.1 54.4L505.1 54.7L505.2 54.9L505.2 55.2L505.2 55.4L505.2 55.7L505.3 55.9L505.3 56.2L505.3 56.4L505.3 56.7L505.3 56.9L505.4 57.2L505.4 57.4L505.4 57.7L505.4 57.9L505.5 58.2L505.5 58.4L505.5 58.7L505.5 58.9L505.6 59.2L505.6 59.4L505.6 59.7L505.6 59.9L505.7 60.0 M505.8 60.9L505.8 61.2L505.8 61.4L505.9 61.6L505.9 61.9L505.9 62.1L506.0 62.4L506.0 62.6L506.0 62.9L506.1 63.1L506.1 63.4L506.1 63.6L506.2 63.9L506.2 64.1L506.3 64.4L506.3 64.6L506.3 64.9L506.4 65.1L506.4 65.4L506.5 65.6L506.5 65.8L506.6 66.1L506.6 66.3L506.7 66.6L506.7 66.8L506.7 67.1L506.8 67.3 M507.0 68.2L507.0 68.3L507.0 68.5L507.1 68.8L507.1 69.0L507.2 69.3L507.2 69.5L507.3 69.8L507.3 70.0L507.3 70.3L507.4 70.5L507.4 70.8L507.5 71.0L507.5 71.3L507.5 71.5L507.6 71.8L507.6 72.0L507.7 72.2L507.7 72.5L507.7 72.7L507.8 73.0L507.8 73.2L507.8 73.5L507.9 73.7L507.9 74.0L507.9 74.2L508.0 74.5L508.0 74.6 M508.1 75.5L508.1 75.7L508.1 76.0L508.2 76.2L508.2 76.5L508.2 76.7L508.3 77.0L508.3 77.2L508.3 77.5L508.3 77.7L508.4 78.0L508.4 78.2L508.4 78.5L508.4 78.7L508.5 79.0L508.5 79.2L508.5 79.4L508.5 79.7L508.6 79.9L508.6 80.2L508.6 80.4L508.6 80.7L508.6 80.9L508.7 81.2L508.7 81.4L508.7 81.7L508.8 81.9L508.8 82.0 M508.9 82.9L508.9 83.2L508.9 83.4L508.9 83.7L509.0 83.9L509.0 84.2L509.0 84.4L509.1 84.7L509.1 84.9L509.1 85.2L509.2 85.4L509.2 85.7L509.2 85.9L509.3 86.2L509.3 86.4L509.3 86.7L509.4 86.9L509.4 87.1L509.4 87.4L509.5 87.6L509.5 87.9L509.5 88.1L509.6 88.4L509.6 88.6L509.6 88.9L509.7 89.1L509.7 89.3 M509.8 90.2L509.9 90.4L509.9 90.6L509.9 90.9L510.0 91.1L510.0 91.4L510.0 91.6L510.1 91.9L510.1 92.1L510.1 92.3L510.2 92.6L510.2 92.8L510.2 93.1L510.3 93.3L510.3 93.6L510.3 93.8L510.4 94.1L510.4 94.3L510.4 94.6L510.5 94.8L510.5 95.1L510.5 95.3L510.5 95.6L510.6 95.8L510.6 96.1L510.6 96.3L510.6 96.6L510.6 96.7 M510.7 97.6L510.7 97.8L510.8 98.1L510.8 98.3L510.8 98.6L510.8 98.8L510.8 99.1L510.9 99.3L510.9 99.6L510.9 99.8L510.9 100.1L510.9 100.3L511.0 100.6L511.0 100.8L511.0 101.1L511.0 101.3L511.0 101.6L511.1 101.8L511.1 102.1L511.1 102.3L511.1 102.6L511.1 102.8L511.1 103.1L511.2 103.3L511.2 103.5L511.2 103.8L511.2 104.0L511.2 104.1 M511.3 105.0L511.3 105.3L511.3 105.5L511.4 105.8L511.4 106.0L511.4 106.3L511.4 106.5L511.4 106.8L511.5 107.0L511.5 107.3L511.5 107.5L511.5 107.8L511.6 108.0L511.6 108.3L511.6 108.5L511.6 108.8L511.7 109.0L511.7 109.3L511.7 109.5L511.7 109.8L511.8 110.0L511.8 110.3L511.8 110.5L511.8 110.8L511.9 111.0L511.9 111.3L511.9 111.4 M512.0 112.3L512.0 112.5L512.0 112.8L512.1 113.0L512.1 113.3L512.1 113.5L512.2 113.8L512.2 114.0L512.2 114.3L512.2 114.5L512.3 114.8L512.3 115.0L512.3 115.2L512.3 115.5L512.4 115.7L512.4 116.0L512.4 116.2L512.5 116.5L512.5 116.7L512.5 117.0L512.5 117.2L512.6 117.5L512.6 117.7L512.6 118.0L512.7 118.2L512.7 118.5L512.7 118.7L512.7 118.8 M512.8 119.7L512.9 120.0L512.9 120.2L512.9 120.5L513.0 120.7L513.0 121.0L513.0 121.2L513.0 121.5L513.1 121.7L513.1 122.0L513.1 122.2L513.2 122.5L513.2 122.7L513.2 122.9L513.2 123.2L513.3 123.4L513.3 123.7L513.3 123.9L513.4 124.2L513.4 124.4L513.4 124.7L513.4 124.9L513.5 125.2L513.5 125.4L513.5 125.7L513.5 125.9L513.6 126.1 M513.7 127.0L513.7 127.2L513.7 127.4L513.7 127.7L513.7 127.9L513.8 128.2L513.8 128.4" fill="none" stroke="#cc1010" stroke-width="2.1999999999999997" stroke-linecap="butt"/>
<rect x="86.4" y="13.2" width="450.4" height="274.8" fill="none" stroke="#000" stroke-width="1.4"/>
<line x1="169.3" y1="288.0" x2="169.3" y2="298.4" stroke="#000" stroke-width="1.4"/>
<text x="168.5" y="326.5" text-anchor="middle" class="lab">8</text>
<line x1="262.6" y1="288.0" x2="262.6" y2="298.4" stroke="#000" stroke-width="1.4"/>
<text x="261.8" y="326.5" text-anchor="middle" class="lab">9</text>
<line x1="355.9" y1="288.0" x2="355.9" y2="298.4" stroke="#000" stroke-width="1.4"/>
<text x="355.09999999999997" y="326.5" text-anchor="middle" class="lab">10</text>
<line x1="449.2" y1="288.0" x2="449.2" y2="298.4" stroke="#000" stroke-width="1.4"/>
<text x="448.4" y="326.5" text-anchor="middle" class="lab">11</text>
<line x1="75.4" y1="279.2" x2="86.4" y2="279.2" stroke="#000" stroke-width="1.4"/>
<text transform="translate(60.6 279.2) rotate(-90)" text-anchor="middle" class="lab">0.0</text>
<line x1="75.4" y1="229.8" x2="86.4" y2="229.8" stroke="#000" stroke-width="1.4"/>
<text transform="translate(60.6 229.8) rotate(-90)" text-anchor="middle" class="lab">0.2</text>
<line x1="75.4" y1="180.4" x2="86.4" y2="180.4" stroke="#000" stroke-width="1.4"/>
<text transform="translate(60.6 180.4) rotate(-90)" text-anchor="middle" class="lab">0.4</text>
<line x1="75.4" y1="131.0" x2="86.4" y2="131.0" stroke="#000" stroke-width="1.4"/>
<text transform="translate(60.6 131.0) rotate(-90)" text-anchor="middle" class="lab">0.6</text>
<line x1="75.4" y1="81.6" x2="86.4" y2="81.6" stroke="#000" stroke-width="1.4"/>
<text transform="translate(60.6 81.6) rotate(-90)" text-anchor="middle" class="lab">0.8</text>
<line x1="75.4" y1="32.1" x2="86.4" y2="32.1" stroke="#000" stroke-width="1.4"/>
<text transform="translate(60.6 32.1) rotate(-90)" text-anchor="middle" class="lab">1.0</text>
<text x="312.1" y="371" text-anchor="middle" class="lab">innovation personnel</text>
<text transform="translate(18.4 150.8) rotate(-90)" text-anchor="middle" class="lab" style="font-size:18px">conditional density</text>
<rect x="86.4" y="13.2" width="96.4" height="73.0" fill="#fff" stroke="#000" stroke-width="1.4"/>
<line x1="100.5" y1="30.2" x2="130.5" y2="30.2" stroke="#00008b" stroke-width="2.3"/>
<line x1="100.6" y1="48.3" x2="131" y2="48.3" stroke="#b01212" stroke-width="2.2" stroke-dasharray="2.4 6.8"/>
<line x1="100.5" y1="66.4" x2="130.5" y2="66.4" stroke="#00cc2a" stroke-width="2.6" stroke-dasharray="16.3 6.5" stroke-linecap="butt"/>
<text x="144.2" y="38" class="leg">low</text>
<text x="144.2" y="55.9" class="leg">high</text>
<text x="144.2" y="74.2" class="leg">med</text>
</svg>
</body></html>
